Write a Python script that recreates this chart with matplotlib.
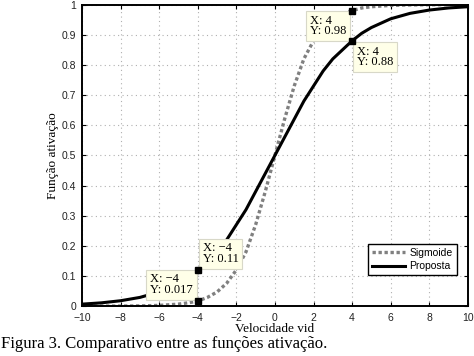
import matplotlib
matplotlib.use("Agg")
import matplotlib.pyplot as plt

# ----------------------------
# DATA
# ----------------------------
x_vals = [-10, -9, -8, -7, -6, -5, -4.5, -4, -3.5, -3, -2.5, -2, -1.5, -1, -0.5,
          0, 0.5, 1, 1.5, 2, 2.5, 3, 3.5, 4, 4.5, 5, 6, 7, 8, 9, 10]

sigmoide = [0.0000, 0.0001, 0.0003, 0.0009, 0.0025, 0.0067, 0.011, 0.017, 0.029,
            0.047, 0.076, 0.12, 0.18, 0.27, 0.38, 0.50, 0.62, 0.73, 0.82, 0.88,
            0.92, 0.95, 0.97, 0.98, 0.989, 0.993, 0.9975, 0.999, 0.9997, 0.9999, 1.0]

proposta = [0.0067, 0.011, 0.018, 0.029, 0.047, 0.076, 0.095, 0.12, 0.15, 0.18,
            0.22, 0.27, 0.32, 0.38, 0.44, 0.50, 0.56, 0.62, 0.68, 0.73, 0.78,
            0.82, 0.85, 0.88, 0.905, 0.924, 0.953, 0.971, 0.982, 0.989, 0.993]

# data tips: (x, y, label text)
tip_x = [4, 4, -4, -4]
tip_y = [0.98, 0.88, 0.12, 0.017]
tip_labels = ["X: 4\nY: 0.98", "X: 4\nY: 0.88", "X: \u22124\nY: 0.11", "X: \u22124\nY: 0.017"]

xticks = [-10, -8, -6, -4, -2, 0, 2, 4, 6, 8, 10]
yticks = [0, 0.1, 0.2, 0.3, 0.4, 0.5, 0.6, 0.7, 0.8, 0.9, 1]

# ----------------------------
# PLOT
# ----------------------------
fig = plt.figure(figsize=(4.74, 3.56), dpi=100)
ax = fig.add_axes([0.173, 0.140, 0.814, 0.847])

ax.plot(x_vals, sigmoide, color="#808080", linestyle=(0, (1, 0.8)), linewidth=2.4, label="Sigmoide")
ax.plot(x_vals, proposta, color="black", linewidth=2.2, label="Proposta")

ax.set_xlim(-10, 10)
ax.set_ylim(0, 1)
ax.set_xticks(xticks)
ax.set_yticks(yticks)
ax.set_xticklabels([str(t).replace("-", "\u2212") for t in xticks],
                   family="Liberation Sans", fontsize=7.5, color="#222222")
ax.set_yticklabels(["0", "0.1", "0.2", "0.3", "0.4", "0.5", "0.6", "0.7", "0.8", "0.9", "1"],
                   family="Liberation Sans", fontsize=7.5, color="#222222")
ax.tick_params(direction="in", length=3, top=True, right=True, width=0.8)
ax.tick_params(axis="x", pad=5)
ax.tick_params(axis="y", pad=4)
ax.grid(True, linestyle=(0, (1, 3)), color="#b0b0b0", linewidth=0.8)
for s in ax.spines.values():
    s.set_linewidth(1.4)

ax.set_xlabel("Velocidade vid", family="Liberation Serif", fontsize=9.5, labelpad=0)
ax.set_ylabel("Função ativação", family="Liberation Serif", fontsize=9.5, labelpad=2)

# data tips
offsets = [(-6, -4), (5, -5), (5, 5), (-5, 5)]
aligns = [("right", "top"), ("left", "top"), ("left", "bottom"), ("right", "bottom")]
for xv, yv, lab, off, (ha, va) in zip(tip_x, tip_y, tip_labels, offsets, aligns):
    ax.plot([xv], [yv], marker="s", color="black", markersize=4.5, zorder=8, clip_on=False)
    ax.annotate(lab, xy=(xv, yv), xytext=off, textcoords="offset pixels",
                ha=ha, va=va, multialignment="left", family="Liberation Serif",
                fontsize=9, linespacing=0.85, zorder=6,
                bbox=dict(boxstyle="square,pad=0.3", fc="#ffffe8", ec="#d8d8c8", lw=0.8))

leg = ax.legend(loc="lower right", bbox_to_anchor=(0.985, 0.085), prop={"family": "Liberation Sans", "size": 7.5},
                fancybox=False, edgecolor="black", framealpha=1, handlelength=3.2,
                borderpad=0.4, labelspacing=0.3, handletextpad=0.4)
leg.get_frame().set_linewidth(1.0)

fig.text(0.002, 0.012, "Figura 3. Comparativo entre as funções ativação.",
         family="Liberation Serif", fontsize=12, ha="left", va="bottom")

fig.savefig("out.png", dpi=100)
